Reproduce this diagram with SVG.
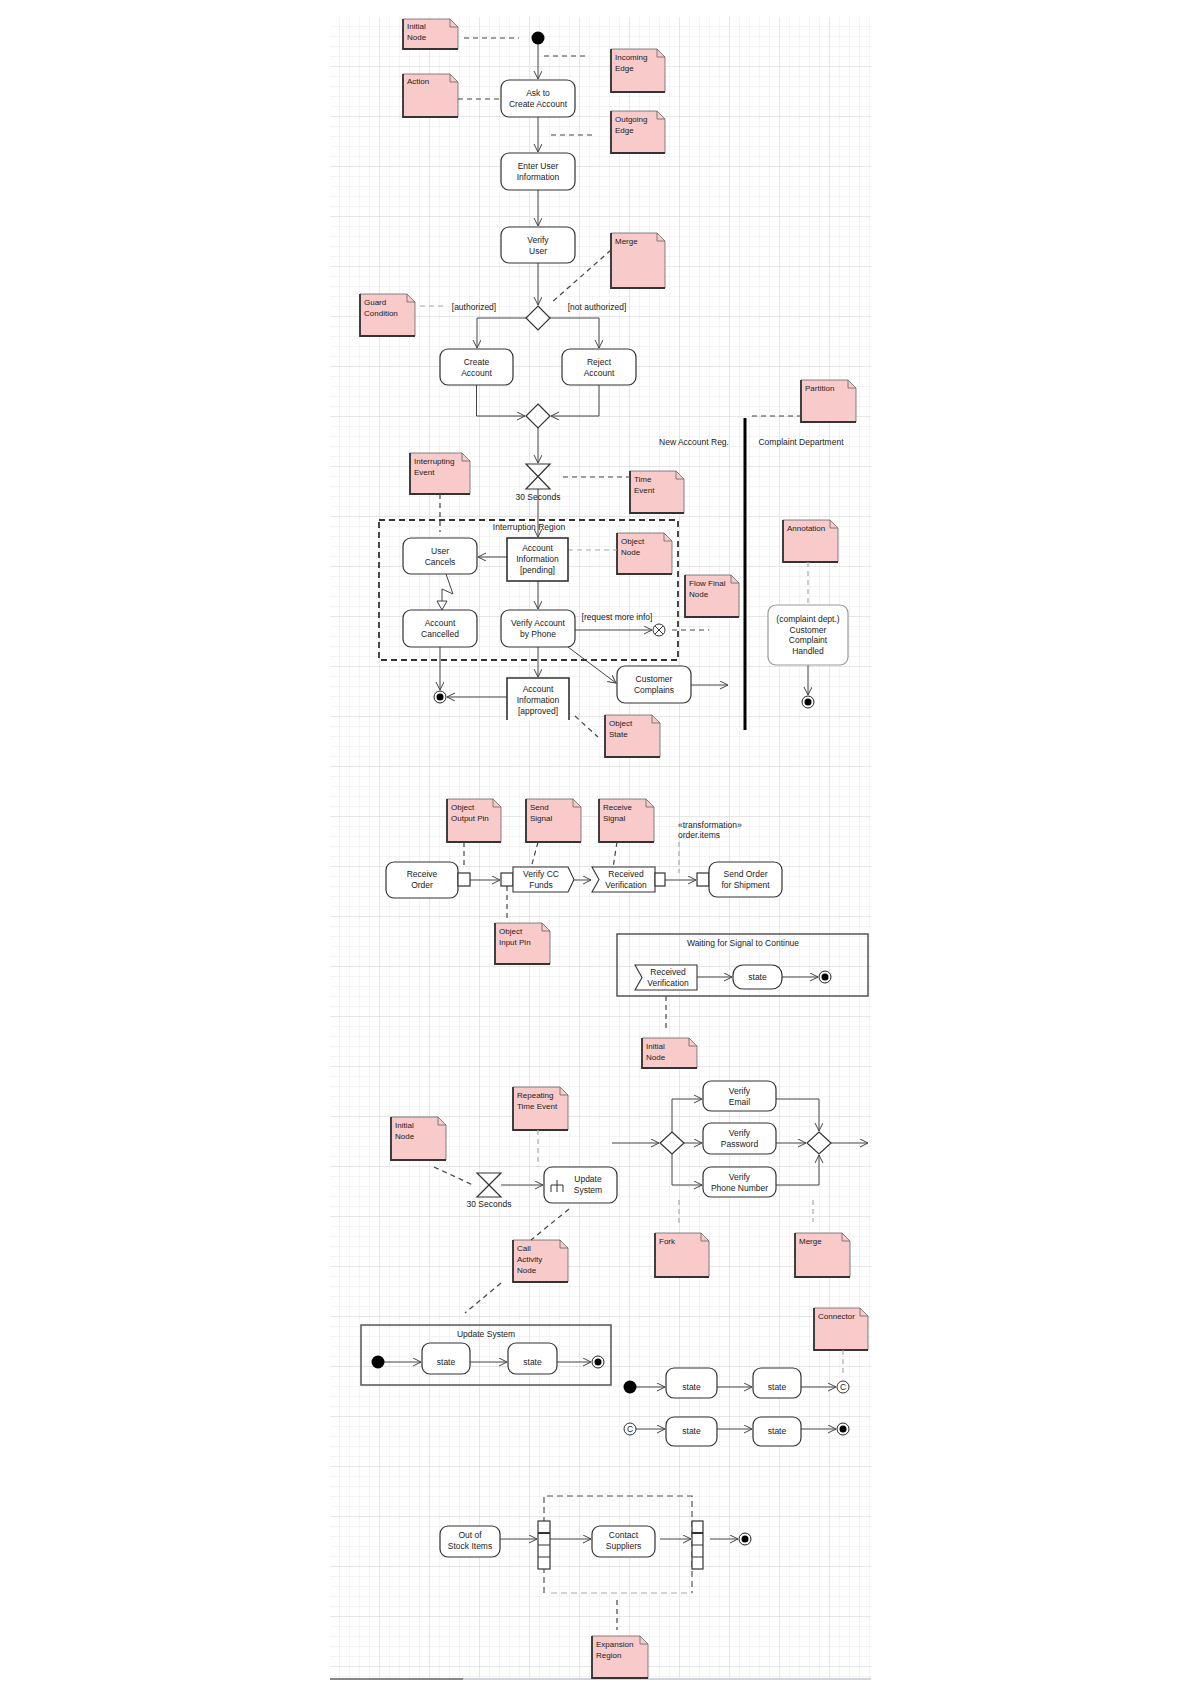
<svg xmlns="http://www.w3.org/2000/svg" width="1200" height="1697" viewBox="0 0 1200 1697">
<defs>
<pattern id="grid" x="330" y="17" width="10" height="10" patternUnits="userSpaceOnUse"><path d="M10,0 V10 H0" fill="none" stroke="#e2e2e2" stroke-width="0.8"/></pattern>
<pattern id="grid5" x="330" y="17" width="50" height="50" patternUnits="userSpaceOnUse"><path d="M50,0 V50 H0" fill="none" stroke="#d4d4d4" stroke-width="0.8"/></pattern>
<marker id="arr" markerWidth="10" markerHeight="10" refX="8" refY="4" orient="auto" markerUnits="userSpaceOnUse"><path d="M0,0 L8,4 L0,8" fill="none" stroke="#444" stroke-width="1"/></marker>
</defs>
<style>
.note{fill:#f8caca;stroke:#666;stroke-width:0.8}
.ns{fill:none;stroke:#333;stroke-width:1.8}
.fold{fill:none;stroke:#666;stroke-width:0.8}
.nt{font-family:"Liberation Sans",Arial,sans-serif;font-size:8px;fill:#222}
.box{fill:#fff;stroke:#333;stroke-width:1.2}
.obj{fill:#fff;stroke:#333;stroke-width:1.6}
.t{font-family:"Liberation Sans",Arial,sans-serif;font-size:8.5px;fill:#222;text-anchor:middle}
.lbl{font-family:"Liberation Sans",Arial,sans-serif;font-size:8.5px;fill:#222}
.edge{fill:none;stroke:#444;stroke-width:1;marker-end:url(#arr)}
.line{fill:none;stroke:#444;stroke-width:1}
.dash{fill:none;stroke:#444;stroke-width:1.2;stroke-dasharray:5,4}
.ldash{fill:none;stroke:#aaa;stroke-width:1.2;stroke-dasharray:5,4}
.init{fill:#000}
.fin{fill:#fff;stroke:#222;stroke-width:1}
.fini{fill:#000}
.frame{fill:none;stroke:#555;stroke-width:1.5}
</style>
<rect width="1200" height="1697" fill="#fff"/>
<rect x="330" y="17" width="541" height="1662" fill="url(#grid)"/>
<rect x="330" y="17" width="541" height="1662" fill="url(#grid5)"/>
<path d="M330,1679 H871" stroke="#d0d4dc" stroke-width="2"/>
<path d="M330,1679 H463" stroke="#888" stroke-width="2"/>

<!-- notes -->
<g id="note-initial-1"><path class="note" d="M403,19 H450 L458,27 V49 H403 Z"/><path class="fold" d="M450,19 V27 H458"/><path class="ns" d="M403,19 V49 H458"/><text class="nt" x="407" y="29">Initial</text><text class="nt" x="407" y="40">Node</text></g>
<g id="note-incoming"><path class="note" d="M611,49 H657 L665,57 V92 H611 Z"/><path class="fold" d="M657,49 V57 H665"/><path class="ns" d="M611,49 V92 H665"/><text class="nt" x="615" y="60">Incoming</text><text class="nt" x="615" y="71">Edge</text></g>
<g id="note-action"><path class="note" d="M403,74 H450 L458,82 V117 H403 Z"/><path class="fold" d="M450,74 V82 H458"/><path class="ns" d="M403,74 V117 H458"/><text class="nt" x="407" y="84">Action</text></g>
<g id="note-outgoing"><path class="note" d="M611,111 H657 L665,119 V153 H611 Z"/><path class="fold" d="M657,111 V119 H665"/><path class="ns" d="M611,111 V153 H665"/><text class="nt" x="615" y="122">Outgoing</text><text class="nt" x="615" y="133">Edge</text></g>
<g id="note-merge-1"><path class="note" d="M611,233 H657 L665,241 V288 H611 Z"/><path class="fold" d="M657,233 V241 H665"/><path class="ns" d="M611,233 V288 H665"/><text class="nt" x="615" y="244">Merge</text></g>
<g id="note-guard"><path class="note" d="M360,294 H407 L415,302 V336 H360 Z"/><path class="fold" d="M407,294 V302 H415"/><path class="ns" d="M360,294 V336 H415"/><text class="nt" x="364" y="305">Guard</text><text class="nt" x="364" y="316">Condition</text></g>
<g id="note-partition"><path class="note" d="M801,380 H848 L856,388 V422 H801 Z"/><path class="fold" d="M848,380 V388 H856"/><path class="ns" d="M801,380 V422 H856"/><text class="nt" x="805" y="391">Partition</text></g>
<g id="note-interrupting"><path class="note" d="M410,453 H462 L470,461 V494 H410 Z"/><path class="fold" d="M462,453 V461 H470"/><path class="ns" d="M410,453 V494 H470"/><text class="nt" x="414" y="464">Interrupting</text><text class="nt" x="414" y="475">Event</text></g>
<g id="note-time"><path class="note" d="M630,471 H676 L684,479 V513 H630 Z"/><path class="fold" d="M676,471 V479 H684"/><path class="ns" d="M630,471 V513 H684"/><text class="nt" x="634" y="482">Time</text><text class="nt" x="634" y="493">Event</text></g>
<g id="note-objectnode"><path class="note" d="M617,533 H664 L672,541 V574 H617 Z"/><path class="fold" d="M664,533 V541 H672"/><path class="ns" d="M617,533 V574 H672"/><text class="nt" x="621" y="544">Object</text><text class="nt" x="621" y="555">Node</text></g>
<g id="note-flowfinal"><path class="note" d="M685,575 H731 L739,583 V617 H685 Z"/><path class="fold" d="M731,575 V583 H739"/><path class="ns" d="M685,575 V617 H739"/><text class="nt" x="689" y="586">Flow Final</text><text class="nt" x="689" y="597">Node</text></g>
<g id="note-annotation"><path class="note" d="M783,520 H830 L838,528 V562 H783 Z"/><path class="fold" d="M830,520 V528 H838"/><path class="ns" d="M783,520 V562 H838"/><text class="nt" x="787" y="531">Annotation</text></g>
<g id="note-objectstate"><path class="note" d="M605,715 H652 L660,723 V757 H605 Z"/><path class="fold" d="M652,715 V723 H660"/><path class="ns" d="M605,715 V757 H660"/><text class="nt" x="609" y="726">Object</text><text class="nt" x="609" y="737">State</text></g>
<g id="note-outputpin"><path class="note" d="M447,799 H493 L501,807 V842 H447 Z"/><path class="fold" d="M493,799 V807 H501"/><path class="ns" d="M447,799 V842 H501"/><text class="nt" x="451" y="810">Object</text><text class="nt" x="451" y="821">Output Pin</text></g>
<g id="note-sendsignal"><path class="note" d="M526,799 H573 L581,807 V842 H526 Z"/><path class="fold" d="M573,799 V807 H581"/><path class="ns" d="M526,799 V842 H581"/><text class="nt" x="530" y="810">Send</text><text class="nt" x="530" y="821">Signal</text></g>
<g id="note-receivesignal"><path class="note" d="M599,799 H646 L654,807 V842 H599 Z"/><path class="fold" d="M646,799 V807 H654"/><path class="ns" d="M599,799 V842 H654"/><text class="nt" x="603" y="810">Receive</text><text class="nt" x="603" y="821">Signal</text></g>
<g id="note-inputpin"><path class="note" d="M495,923 H542 L550,931 V964 H495 Z"/><path class="fold" d="M542,923 V931 H550"/><path class="ns" d="M495,923 V964 H550"/><text class="nt" x="499" y="934">Object</text><text class="nt" x="499" y="945">Input Pin</text></g>
<g id="note-initial-2"><path class="note" d="M642,1038 H689 L697,1046 V1068 H642 Z"/><path class="fold" d="M689,1038 V1046 H697"/><path class="ns" d="M642,1038 V1068 H697"/><text class="nt" x="646" y="1049">Initial</text><text class="nt" x="646" y="1060">Node</text></g>
<g id="note-repeating"><path class="note" d="M513,1087 H560 L568,1095 V1130 H513 Z"/><path class="fold" d="M560,1087 V1095 H568"/><path class="ns" d="M513,1087 V1130 H568"/><text class="nt" x="517" y="1098">Repeating</text><text class="nt" x="517" y="1109">Time Event</text></g>
<g id="note-initial-3"><path class="note" d="M391,1117 H438 L446,1125 V1160 H391 Z"/><path class="fold" d="M438,1117 V1125 H446"/><path class="ns" d="M391,1117 V1160 H446"/><text class="nt" x="395" y="1128">Initial</text><text class="nt" x="395" y="1139">Node</text></g>
<g id="note-fork"><path class="note" d="M655,1233 H701 L709,1241 V1277 H655 Z"/><path class="fold" d="M701,1233 V1241 H709"/><path class="ns" d="M655,1233 V1277 H709"/><text class="nt" x="659" y="1244">Fork</text></g>
<g id="note-merge-2"><path class="note" d="M795,1233 H842 L850,1241 V1277 H795 Z"/><path class="fold" d="M842,1233 V1241 H850"/><path class="ns" d="M795,1233 V1277 H850"/><text class="nt" x="799" y="1244">Merge</text></g>
<g id="note-callactivity"><path class="note" d="M513,1240 H560 L568,1248 V1282 H513 Z"/><path class="fold" d="M560,1240 V1248 H568"/><path class="ns" d="M513,1240 V1282 H568"/><text class="nt" x="517" y="1251">Call</text><text class="nt" x="517" y="1262">Activity</text><text class="nt" x="517" y="1273">Node</text></g>
<g id="note-connector"><path class="note" d="M814,1308 H860 L868,1316 V1350 H814 Z"/><path class="fold" d="M860,1308 V1316 H868"/><path class="ns" d="M814,1308 V1350 H868"/><text class="nt" x="818" y="1319">Connector</text></g>
<g id="note-expansion"><path class="note" d="M592,1636 H640 L648,1644 V1678 H592 Z"/><path class="fold" d="M640,1636 V1644 H648"/><path class="ns" d="M592,1636 V1678 H648"/><text class="nt" x="596" y="1647">Expansion</text><text class="nt" x="596" y="1658">Region</text></g>

<!-- frames and regions -->
<g id="interruption-region"><rect x="379" y="520" width="299" height="140" fill="none" stroke="#333" stroke-width="1.8" stroke-dasharray="6,4"/></g>
<g id="partition"><path d="M745,418 V730" stroke="#000" stroke-width="3"/><text class="t" x="694" y="445">New Account Reg.</text><text class="t" x="801" y="445">Complaint Department</text></g>
<g id="frame-waiting"><rect class="frame" x="617" y="934" width="251" height="62"/><text class="t" x="743" y="946">Waiting for Signal to Continue</text></g>
<g id="frame-update"><rect class="frame" x="361" y="1325" width="250" height="60"/><text class="t" x="486" y="1337">Update System</text></g>
<g id="expansion-region"><path d="M544,1593 V1496 H692 V1593" fill="none" stroke="#555" stroke-width="1.2" stroke-dasharray="6,4"/><path d="M551,1593 H692" fill="none" stroke="#aaa" stroke-width="1.2" stroke-dasharray="6,4"/></g>

<!-- connectors -->
<g id="connectors">
<path class="edge" d="M538,44 V79"/>
<path class="edge" d="M538,117 V152"/>
<path class="edge" d="M538,190 V226"/>
<path class="edge" d="M538,263 V305"/>
<path class="edge" d="M526,318 H477 V348"/>
<path class="edge" d="M550,318 H599 V348"/>
<path class="edge" d="M476.5,385 V416 H525"/>
<path class="edge" d="M599,385 V416 H551"/>
<path class="edge" d="M538,428 V463"/>
<path class="edge" d="M538,489 V537"/>
<path class="edge" d="M507,557 H478"/>
<path class="edge" d="M538,581 V609"/>
<path class="edge" d="M575,630 H652"/>
<path class="edge" d="M440,647 V690"/>
<path class="edge" d="M538,647 V677"/>
<path class="edge" d="M507,697 H447"/>
<path class="edge" d="M568,647 L616,683"/>
<path class="edge" d="M691,685 H728"/>
<path class="edge" d="M808,665 V695"/>
<path class="edge" d="M470,880 H500"/>
<path class="edge" d="M574,880 H591"/>
<path class="edge" d="M665,880 H696"/>
<path class="edge" d="M697,977 H732"/>
<path class="edge" d="M782,977 H818"/>
<path class="edge" d="M501,1185 H543"/>
<path class="edge" d="M612,1143 H659"/>
<path class="edge" d="M672,1132 V1099 H702"/>
<path class="edge" d="M684,1143 H702"/>
<path class="edge" d="M672,1154 V1185 H702"/>
<path class="edge" d="M776,1099 H819 V1131"/>
<path class="edge" d="M776,1143 H806"/>
<path class="edge" d="M776,1185 H819 V1155"/>
<path class="edge" d="M831,1143 H868"/>
<path class="edge" d="M384,1362 H421"/>
<path class="edge" d="M470,1362 H507"/>
<path class="edge" d="M557,1362 H591"/>
<path class="edge" d="M636,1387 H665"/>
<path class="edge" d="M717,1387 H752"/>
<path class="edge" d="M801,1387 H836"/>
<path class="edge" d="M636,1429 H665"/>
<path class="edge" d="M717,1429 H752"/>
<path class="edge" d="M801,1429 H836"/>
<path class="edge" d="M500,1539 H537"/>
<path class="edge" d="M550,1539 H591"/>
<path class="edge" d="M660,1539 H691"/>
<path class="edge" d="M710,1539 H738"/>
<path class="line" d="M446,574 L453,594 L442,589 L442,601"/>
<path d="M437,601 H447 L442,610 Z" fill="#fff" stroke="#444" stroke-width="1"/>
<path class="dash" d="M464,38 H519"/>
<path class="dash" d="M544,56 H588"/>
<path class="dash" d="M458,99 H501"/>
<path class="dash" d="M551,135 H593"/>
<path class="dash" d="M611,250 L551,303"/>
<path class="ldash" d="M420,306 H447"/>
<path class="dash" d="M752,416 H801"/>
<path class="dash" d="M440,494 V532"/>
<path class="dash" d="M563,477 H630"/>
<path class="ldash" d="M568,550 H617"/>
<path class="dash" d="M672,630 H709"/>
<path class="dash" d="M575,716 L598,737"/>
<path class="ldash" d="M808,562 V605"/>
<path class="dash" d="M464,842 V868"/>
<path class="dash" d="M538,842 L531,868"/>
<path class="dash" d="M617,842 L613,868"/>
<path class="ldash" d="M679,842 V873"/>
<path class="dash" d="M507,886 V920"/>
<path class="dash" d="M666,996 V1032"/>
<path class="dash" d="M434,1167 L473,1185"/>
<path class="ldash" d="M538,1130 V1167"/>
<path class="ldash" d="M679,1200 V1225"/>
<path class="ldash" d="M813,1200 V1222"/>
<path class="dash" d="M569,1209 L531,1240"/>
<path class="dash" d="M501,1283 L465,1313"/>
<path class="ldash" d="M843,1350 V1374"/>
<path class="dash" d="M617,1600 V1630"/>
</g>

<!-- top flow -->
<g id="initial-1"><circle class="init" cx="538" cy="38" r="6.5"/></g>
<g id="ask-create-account"><rect class="box" x="501" y="80" width="74" height="37" rx="8"/><text class="t" x="538" y="96">Ask to</text><text class="t" x="538" y="107">Create Account</text></g>
<g id="enter-user-info"><rect class="box" x="501" y="153" width="74" height="37" rx="8"/><text class="t" x="538" y="169">Enter User</text><text class="t" x="538" y="180">Information</text></g>
<g id="verify-user"><rect class="box" x="501" y="227" width="74" height="36" rx="8"/><text class="t" x="538" y="243">Verify</text><text class="t" x="538" y="254">User</text></g>
<g id="decision-1"><path d="M538,306 L550,318 L538,330 L526,318 Z" fill="#fff" stroke="#333" stroke-width="1.2"/><text class="t" x="474" y="310">[authorized]</text><text class="t" x="597" y="310">[not authorized]</text></g>
<g id="create-account"><rect class="box" x="440" y="349" width="73" height="36" rx="8"/><text class="t" x="476.5" y="365">Create</text><text class="t" x="476.5" y="376">Account</text></g>
<g id="reject-account"><rect class="box" x="562" y="349" width="74" height="36" rx="8"/><text class="t" x="599" y="365">Reject</text><text class="t" x="599" y="376">Account</text></g>
<g id="merge-1"><path d="M538,404 L550,416 L538,428 L526,416 Z" fill="#fff" stroke="#333" stroke-width="1.2"/></g>
<g id="time-event-1"><path d="M526,464 H550 L526,489 H550 Z" fill="#fff" stroke="#333" stroke-width="1.2"/><text class="t" x="538" y="500">30 Seconds</text></g>
<g id="interruption-label"><text class="t" x="529" y="530">Interruption Region</text></g>
<g id="account-info-pending"><rect class="obj" x="507" y="538" width="61" height="43"/><text class="t" x="537.5" y="551">Account</text><text class="t" x="537.5" y="562">Information</text><text class="t" x="537.5" y="573">[pending]</text></g>
<g id="user-cancels"><rect class="box" x="403" y="538" width="74" height="36" rx="8"/><text class="t" x="440" y="554">User</text><text class="t" x="440" y="565">Cancels</text></g>
<g id="account-cancelled"><rect class="box" x="403" y="610" width="74" height="37" rx="8"/><text class="t" x="440" y="626">Account</text><text class="t" x="440" y="637">Cancelled</text></g>
<g id="verify-phone"><rect class="box" x="501" y="610" width="74" height="37" rx="8"/><text class="t" x="538" y="626">Verify Account</text><text class="t" x="538" y="637">by Phone</text></g>
<g id="request-label"><text class="t" x="617" y="620">[request more info]</text></g>
<g id="flow-final"><circle cx="659" cy="630" r="6" fill="#fff" stroke="#333" stroke-width="1"/><path d="M655,626 L663,634 M663,626 L655,634" stroke="#333" stroke-width="1"/></g>
<g id="final-1"><circle class="fin" cx="440" cy="697" r="6"/><circle class="fini" cx="440" cy="697" r="3.5"/></g>
<g id="account-info-approved"><rect x="507" y="678" width="62" height="42" fill="#fff"/><path d="M507,720 V678 H569 V720" fill="none" stroke="#333" stroke-width="1.6"/><text class="t" x="538" y="692">Account</text><text class="t" x="538" y="703">Information</text><text class="t" x="538" y="714">[approved]</text></g>
<g id="customer-complains"><rect class="box" x="617" y="666" width="74" height="37" rx="8"/><text class="t" x="654" y="682">Customer</text><text class="t" x="654" y="693">Complains</text></g>
<g id="complaint-handled"><rect x="768" y="605" width="80" height="60" rx="8" fill="#fff" stroke="#999" stroke-width="1.2"/><text class="t" x="808" y="622">(complaint dept.)</text><text class="t" x="808" y="632.5">Customer</text><text class="t" x="808" y="643">Complaint</text><text class="t" x="808" y="653.5">Handled</text></g>
<g id="final-2"><circle class="fin" cx="808" cy="702" r="6"/><circle class="fini" cx="808" cy="702" r="3.5"/></g>

<!-- signals -->
<g id="receive-order"><rect class="box" x="386" y="862" width="72" height="36" rx="8" stroke-width="1.5"/><text class="t" x="422" y="877">Receive</text><text class="t" x="422" y="888">Order</text><rect x="458" y="873" width="12" height="13" fill="#fff" stroke="#333" stroke-width="1.2"/></g>
<g id="verify-cc-funds"><rect x="501" y="873" width="12" height="13" fill="#fff" stroke="#333" stroke-width="1.2"/><path d="M513,867 H568 L574,879.5 L568,892 H513 Z" fill="#fff" stroke="#333" stroke-width="1.1"/><text class="t" x="541" y="877">Verify CC</text><text class="t" x="541" y="888">Funds</text></g>
<g id="received-verification"><path d="M592,867 H655 V892 H592 L599,879.5 Z" fill="#fff" stroke="#333" stroke-width="1.1"/><text class="t" x="626" y="877">Received</text><text class="t" x="626" y="888">Verification</text><rect x="655" y="873" width="10" height="13" fill="#fff" stroke="#333" stroke-width="1.2"/></g>
<g id="transformation"><text class="lbl" x="678" y="828" font-size="7">«transformation»</text><text class="lbl" x="678" y="838" font-size="7">order.items</text></g>
<g id="send-order"><rect x="697" y="873" width="12" height="13" fill="#fff" stroke="#333" stroke-width="1.2"/><rect class="box" x="709" y="862" width="73" height="35" rx="8" stroke-width="1.5"/><text class="t" x="745.5" y="877">Send Order</text><text class="t" x="745.5" y="888">for Shipment</text></g>
<g id="waiting-receive"><path d="M635,965 H697 V990 H635 L642,977.5 Z" fill="#fff" stroke="#333" stroke-width="1.1"/><text class="t" x="668" y="975">Received</text><text class="t" x="668" y="986">Verification</text></g>
<g id="waiting-state"><rect class="box" x="733" y="965" width="49" height="24" rx="10"/><text class="t" x="757.5" y="980">state</text></g>
<g id="final-3"><circle class="fin" cx="825" cy="977" r="6"/><circle class="fini" cx="825" cy="977" r="3.5"/></g>

<!-- repeating / fork -->
<g id="time-event-2"><path d="M477,1173 H501 L477,1197 H501 Z" fill="#fff" stroke="#333" stroke-width="1.2"/><text class="t" x="489" y="1207">30 Seconds</text></g>
<g id="update-system"><rect class="box" x="544" y="1167" width="73" height="36" rx="8"/><path d="M557,1180 V1192 M551,1192 V1185 H563 V1192" fill="none" stroke="#333" stroke-width="1"/><text class="t" x="588" y="1182">Update</text><text class="t" x="588" y="1193">System</text></g>
<g id="fork"><path d="M672,1132 L684,1143 L672,1154 L660,1143 Z" fill="#fff" stroke="#333" stroke-width="1.2"/></g>
<g id="verify-email"><rect class="box" x="703" y="1081" width="73" height="30" rx="8"/><text class="t" x="739.5" y="1094">Verify</text><text class="t" x="739.5" y="1105">Email</text></g>
<g id="verify-password"><rect class="box" x="703" y="1123" width="73" height="31" rx="8"/><text class="t" x="739.5" y="1136">Verify</text><text class="t" x="739.5" y="1147">Password</text></g>
<g id="verify-phone-number"><rect class="box" x="703" y="1167" width="73" height="30" rx="8"/><text class="t" x="739.5" y="1180">Verify</text><text class="t" x="739.5" y="1191">Phone Number</text></g>
<g id="merge-2"><path d="M819,1132 L831,1143 L819,1154 L807,1143 Z" fill="#fff" stroke="#333" stroke-width="1.2"/></g>

<!-- update system frame -->
<g id="initial-4"><circle class="init" cx="378" cy="1362" r="6.5"/></g>
<g id="us-state-1"><rect class="box" x="422" y="1343" width="48" height="31" rx="8"/><text class="t" x="446" y="1365">state</text></g>
<g id="us-state-2"><rect class="box" x="508" y="1343" width="49" height="31" rx="8"/><text class="t" x="532.5" y="1365">state</text></g>
<g id="final-4"><circle class="fin" cx="598" cy="1362" r="6"/><circle class="fini" cx="598" cy="1362" r="3.5"/></g>

<!-- connector rows -->
<g id="initial-5"><circle class="init" cx="630" cy="1387" r="6.5"/></g>
<g id="c-state-1"><rect class="box" x="666" y="1368" width="51" height="30" rx="8"/><text class="t" x="691.5" y="1390">state</text></g>
<g id="c-state-2"><rect class="box" x="753" y="1368" width="48" height="30" rx="8"/><text class="t" x="777" y="1390">state</text></g>
<g id="connector-out"><circle cx="843" cy="1387" r="6" fill="#fff" stroke="#333" stroke-width="1"/><text class="t" x="843" y="1390" font-size="7">C</text></g>
<g id="connector-in"><circle cx="630" cy="1429" r="6" fill="#fff" stroke="#333" stroke-width="1"/><text class="t" x="630" y="1432" font-size="7">C</text></g>
<g id="c-state-3"><rect class="box" x="666" y="1417" width="51" height="29" rx="8"/><text class="t" x="691.5" y="1434">state</text></g>
<g id="c-state-4"><rect class="box" x="753" y="1417" width="48" height="29" rx="8"/><text class="t" x="777" y="1434">state</text></g>
<g id="final-5"><circle class="fin" cx="843" cy="1429" r="6"/><circle class="fini" cx="843" cy="1429" r="3.5"/></g>

<!-- expansion -->
<g id="out-of-stock"><rect class="box" x="440" y="1526" width="60" height="31" rx="8"/><text class="t" x="470" y="1538">Out of</text><text class="t" x="470" y="1549">Stock Items</text></g>
<g id="expansion-in"><rect x="538" y="1521" width="12" height="48" fill="#fff" stroke="#333" stroke-width="1.2"/><path d="M538,1533 H550" stroke="#333" stroke-width="2"/><path d="M538,1545 H550 M538,1557 H550" stroke="#333" stroke-width="1"/></g>
<g id="contact-suppliers"><rect class="box" x="592" y="1526" width="63" height="31" rx="8"/><text class="t" x="623.5" y="1538">Contact</text><text class="t" x="623.5" y="1549">Suppliers</text></g>
<g id="expansion-out"><rect x="692" y="1521" width="11" height="48" fill="#fff" stroke="#333" stroke-width="1.2"/><path d="M692,1533 H703" stroke="#333" stroke-width="2"/><path d="M692,1545 H703 M692,1557 H703" stroke="#333" stroke-width="1"/></g>
<g id="final-6"><circle class="fin" cx="745" cy="1539" r="6"/><circle class="fini" cx="745" cy="1539" r="3.5"/></g>
</svg>
